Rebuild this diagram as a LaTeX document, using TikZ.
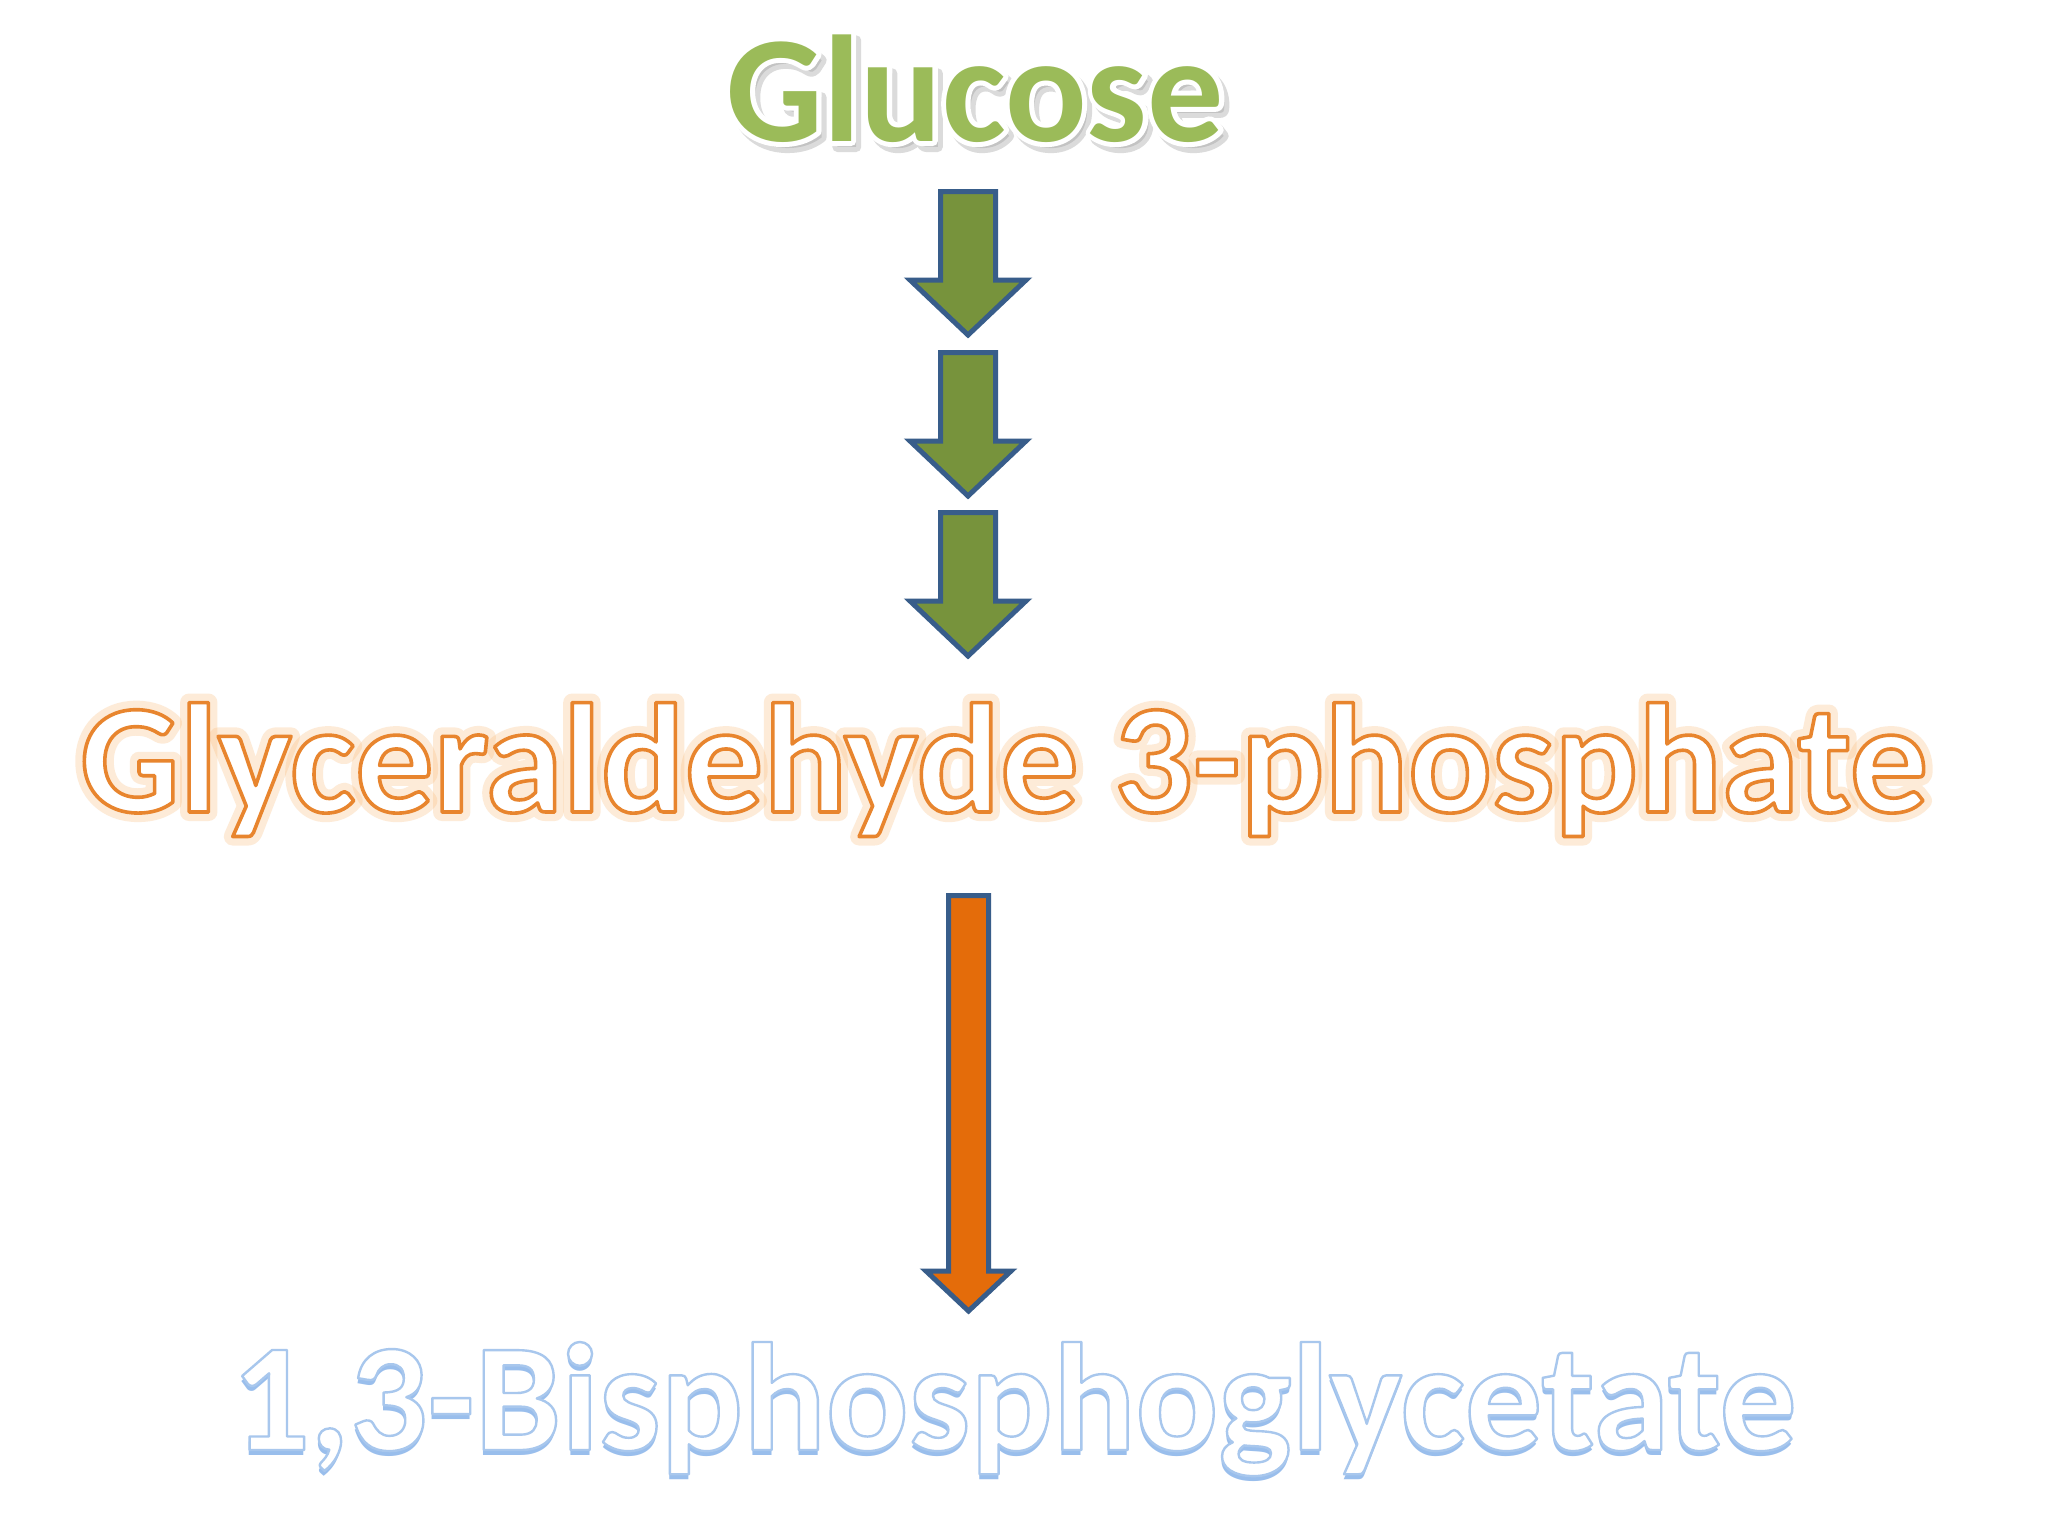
\documentclass[tikz,border=0pt]{standalone}
\usepackage{fontspec}
\setmainfont{Carlito}

\definecolor{glugreen}{HTML}{9BBB59}
\definecolor{stepgreen}{HTML}{77933C}
\definecolor{stepblue}{HTML}{385D8A}
\definecolor{steporange}{HTML}{E46C0A}
\definecolor{gapglow}{HTML}{F9B97A}
\definecolor{bpgblue}{HTML}{6FA3E5}

% outline text: render mode, line width (bp), stroke colour (r g b)
\newcommand\rimtext[4]{\special{pdf:literal direct #1 Tr #2 w 1 j #3 RG}#4\special{pdf:literal direct 0 Tr}}

\tikzset{
  bigtext/.style={font=\fontsize{#1}{90}\selectfont\bfseries, inner sep=0pt, anchor=base},
  bigtext/.default=76,
  blockarrow/.style={draw=stepblue, line width=2.5pt, line join=miter},
}

\begin{document}
\begin{tikzpicture}[x=0.5pt,y=0.5pt]
	\fill[white] (0,0) rectangle (2048,-1536);
	\useasboundingbox (0,0) rectangle (2048,-1536);

	% Glucose: shadow, white rim, green face
	\node[bigtext, text=black!40, opacity=0.35, shift={(5,-6)}] (gluShade) at (975,-141) {\rimtext{2}{5}{0.6 0.6 0.6}{Glucose}};
	\node[bigtext, text=white] (gluRim) at (975,-141) {\rimtext{1}{5}{1 1 1}{Glucose}};
	\node[bigtext, text=glugreen] (glucose) at (975,-141) {Glucose};

	% three green steps
	\foreach \y in {189,350,510} {
		\draw[blockarrow, fill=stepgreen] (940.5,-\y-2.5) -- (995.5,-\y-2.5) -- (995.5,-\y-91)
			-- (1026,-\y-91) -- (968,-\y-146) -- (910,-\y-91) -- (940.5,-\y-91) -- cycle;
	}

	% Glyceraldehyde 3-phosphate: glow, then white face with orange rim
	\node[bigtext=78, text=gapglow, opacity=0.3] (gapGlow) at (1004,-812) {\rimtext{1}{9}{0.98 0.75 0.50}{Glyceraldehyde 3-phosphate}};
	\node[bigtext=78, text=white] (gap) at (1004,-812) {\rimtext{2}{1.8}{0.91 0.52 0.18}{Glyceraldehyde 3-phosphate}};

	% long orange step
	\draw[blockarrow, fill=steporange] (948.5,-895.5) -- (988.5,-895.5) -- (988.5,-1271)
		-- (1011,-1271) -- (968.5,-1311) -- (926,-1271) -- (948.5,-1271) -- cycle;

	% 1,3-Bisphosphoglycetate: blue bevel, white face with light rim
	\node[bigtext=77, text=bpgblue, opacity=0.7, shift={(0,-5)}] (bpgBase) at (1014,-1450) {1,3-Bisphosphoglycetate};
	\node[bigtext=77, text=white] (bpg) at (1014,-1450) {\rimtext{2}{1.2}{0.66 0.78 0.93}{1,3-Bisphosphoglycetate}};
\end{tikzpicture}
\end{document}
